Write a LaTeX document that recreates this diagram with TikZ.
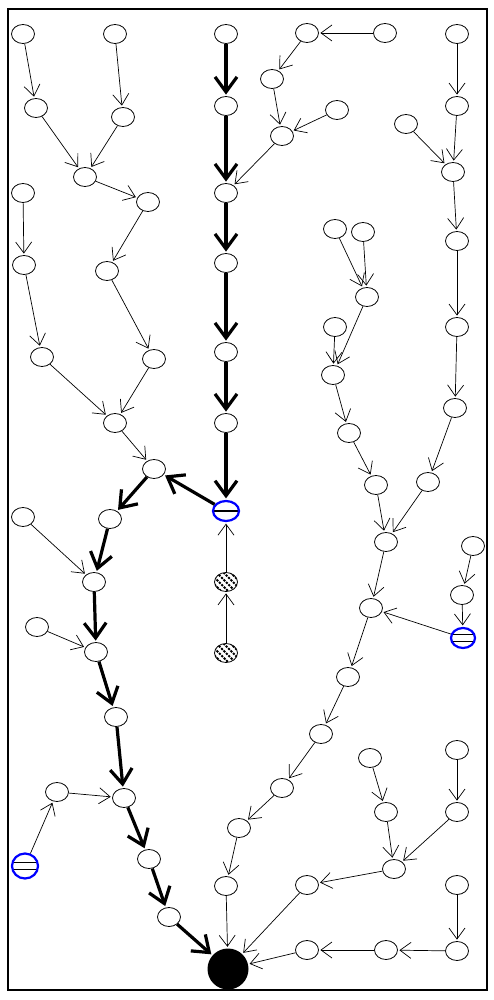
\documentclass[tikz,border=0pt]{standalone}
\usetikzlibrary{shapes.geometric,arrows.meta}
\begin{document}
\begin{tikzpicture}[x=1pt,y=-1pt,
  nd/.style={ellipse,draw,line width=0.8pt,minimum width=23pt,minimum height=19pt,inner sep=0pt},
  hatch/.style={nd,path picture={
      \foreach \i in {-28,-21,...,28}{
        \draw[line width=2pt,dash pattern=on 2.2pt off 1.2pt]
          ([xshift=\i pt-12pt,yshift=12pt]path picture bounding box.center) --
          ([xshift=\i pt+12pt,yshift=-12pt]path picture bounding box.center);}
      }},
  bluea/.style={ellipse,draw=blue,line width=2.2pt,minimum width=26pt,minimum height=20pt,inner sep=0pt,
      path picture={\draw[black,line width=1.2pt] (path picture bounding box.west) -- (path picture bounding box.east);}},
  blueb/.style={ellipse,draw=blue,line width=2.2pt,minimum width=#1,inner sep=0pt,
      path picture={\draw[black,line width=1.4pt]
        ([yshift=3.5pt]path picture bounding box.west) -- ([yshift=3.5pt]path picture bounding box.east)
        ([yshift=-3.5pt]path picture bounding box.west) -- ([yshift=-3.5pt]path picture bounding box.east);}},
  big/.style={circle,fill=black,minimum size=41pt,inner sep=0pt},
  ar/.style={-{Straight Barb[length=11pt,width=16pt]},line width=0.7pt,shorten >=1.5pt},
  tk/.style={-{Straight Barb[length=15pt,width=22pt]},line width=3.2pt,shorten >=1.5pt}
]
\useasboundingbox (0,0) rectangle (493,1000);
\draw[line width=2pt] (8,9) rectangle (487,990);

% thick chain
\node[nd] (T1) at (226,34) {};
\node[nd] (T2) at (226,106) {};
\node[nd] (T3) at (226,193) {};
\node[nd] (T4) at (226,263) {};
\node[nd] (T5) at (226,352) {};
\node[nd] (T6) at (226,423) {};
\node[bluea] (BL1) at (226,511) {};

% left
\node[nd] (A1) at (23,34) {};
\node[nd] (A2) at (115,34) {};
\node[nd] (A4) at (36,108) {};
\node[nd] (A5) at (123,117) {};
\node[nd] (A6) at (85,177) {};
\node[nd] (A7) at (148,202) {};
\node[nd] (A8) at (23,193) {};
\node[nd] (L1) at (24,265) {};
\node[nd] (L2) at (107,271) {};
\node[nd] (L3) at (42,357) {};
\node[nd] (L4) at (154,359) {};
\node[nd] (L5) at (115,423) {};
\node[nd] (L6) at (154,469) {};
\node[nd] (M1) at (23,517) {};
\node[nd] (M2) at (110,519) {};
\node[nd] (M3) at (94,582) {};
\node[nd] (M4) at (37,627) {};
\node[nd] (M5) at (96,652) {};
\node[nd] (M6) at (116,717) {};
\node[hatch] (H1) at (226,582) {};
\node[hatch] (H2) at (226,653) {};
\node[nd] (B2) at (57,792) {};
\node[nd] (B3) at (124,798) {};
\node[blueb=26pt,minimum height=25pt] (BL3) at (25,866) {};
\node[nd] (B4) at (149,859) {};
\node[nd] (B5) at (169,917) {};
\node[big] (BIG) at (228,969) {};

% right
\node[nd] (R1) at (307,33) {};
\node[nd] (R2) at (385,33) {};
\node[nd] (R3) at (457,34) {};
\node[nd] (R4) at (272,79) {};
\node[nd] (R5) at (337,110) {};
\node[nd] (R6) at (282,136) {};
\node[nd] (R7) at (457,106) {};
\node[nd] (R8) at (406,124) {};
\node[nd] (R9) at (453,172) {};
\node[nd] (R10) at (457,241) {};
\node[nd] (R11) at (335,229) {};
\node[nd] (R12) at (363,232) {};
\node[nd] (R13) at (367,297) {};
\node[nd] (R14) at (335,327) {};
\node[nd] (R15) at (333,375) {};
\node[nd] (R16) at (349,433) {};
\node[nd] (R17) at (376,485) {};
\node[nd] (R19) at (457,327) {};
\node[nd] (R20) at (455,408) {};
\node[nd] (R21) at (428,482) {};
\node[nd] (R24) at (386,542) {};
\node[nd] (R25) at (473,546) {};
\node[nd] (R26) at (462,595) {};
\node[nd] (R27) at (371,608) {};
\node[blueb=24pt,minimum height=20pt] (BL2) at (463,638) {};
\node[nd] (R28) at (348,677) {};
\node[nd] (R29) at (321,734) {};
\node[nd] (C2) at (282,788) {};
\node[nd] (C3) at (239,828) {};
\node[nd] (C14) at (226,886) {};
\node[nd] (C4) at (370,758) {};
\node[nd] (C5) at (457,750) {};
\node[nd] (C6) at (386,812) {};
\node[nd] (C7) at (457,812) {};
\node[nd] (C8) at (394,869) {};
\node[nd] (C9) at (307,885) {};
\node[nd] (C10) at (457,885) {};
\node[nd] (C11) at (307,950) {};
\node[nd] (C12) at (386,950) {};
\node[nd] (C13) at (457,951) {};

% thick edges
\draw[tk] (T1) -- (T2);
\draw[tk] (T2) -- (T3);
\draw[tk] (T3) -- (T4);
\draw[tk] (T4) -- (T5);
\draw[tk] (T5) -- (T6);
\draw[tk] (T6) -- (BL1);
\draw[tk] (BL1) -- (L6);
\draw[tk] (L6) -- (M2);
\draw[tk] (M2) -- (M3);
\draw[tk] (M3) -- (M5);
\draw[tk] (M5) -- (M6);
\draw[tk] (M6) -- (B3);
\draw[tk] (B3) -- (B4);
\draw[tk] (B4) -- (B5);
\draw[tk] (B5) -- (BIG);

% thin edges left
\draw[ar] (A1) -- (A4);
\draw[ar] (A2) -- (A5);
\draw[ar] (A4) -- (A6);
\draw[ar] (A5) -- (A6);
\draw[ar] (A6) -- (A7);
\draw[ar] (A7) -- (L2);
\draw[ar] (A8) -- (L1);
\draw[ar] (L1) -- (L3);
\draw[ar] (L2) -- (L4);
\draw[ar] (L3) -- (L5);
\draw[ar] (L4) -- (L5);
\draw[ar] (L5) -- (L6);
\draw[ar] (M1) -- (M3);
\draw[ar] (M4) -- (M5);
\draw[ar] (H1) -- (BL1);
\draw[ar] (H2) -- (H1);
\draw[ar] (B2) -- (B3);
\draw[ar] (BL3) -- (B2);

% thin edges right
\draw[ar] (R2) -- (R1);
\draw[ar] (R1) -- (R4);
\draw[ar] (R4) -- (R6);
\draw[ar] (R5) -- (R6);
\draw[ar] (R6) -- (T3);
\draw[ar] (R3) -- (R7);
\draw[ar] (R7) -- (R9);
\draw[ar] (R8) -- (R9);
\draw[ar] (R9) -- (R10);
\draw[ar] (R10) -- (R19);
\draw[ar] (R19) -- (R20);
\draw[ar] (R20) -- (R21);
\draw[ar] (R11) -- (R13);
\draw[ar] (R12) -- (R13);
\draw[ar] (R13) -- (R15);
\draw[ar] (R14) -- (R15);
\draw[ar] (R15) -- (R16);
\draw[ar] (R16) -- (R17);
\draw[ar] (R17) -- (R24);
\draw[ar] (R21) -- (R24);
\draw[ar] (R24) -- (R27);
\draw[ar] (R25) -- (R26);
\draw[ar] (R26) -- (BL2);
\draw[ar] (BL2) -- (R27);
\draw[ar] (R27) -- (R28);
\draw[ar] (R28) -- (R29);
\draw[ar] (R29) -- (C2);
\draw[ar] (C2) -- (C3);
\draw[ar] (C3) -- (C14);
\draw[ar] (C14) -- (BIG);
\draw[ar] (C4) -- (C6);
\draw[ar] (C5) -- (C7);
\draw[ar] (C6) -- (C8);
\draw[ar] (C7) -- (C8);
\draw[ar] (C8) -- (C9);
\draw[ar] (C9) -- (BIG);
\draw[ar] (C10) -- (C13);
\draw[ar] (C13) -- (C12);
\draw[ar] (C12) -- (C11);
\draw[ar] (C11) -- (BIG);
\end{tikzpicture}
\end{document}
